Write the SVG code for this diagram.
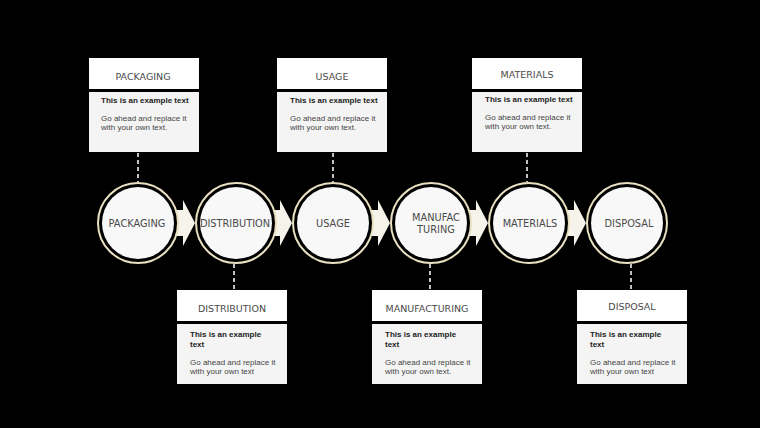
<svg xmlns="http://www.w3.org/2000/svg" width="760" height="428" viewBox="0 0 760 428">
<style>
.bg{fill:#000}
.hdr{fill:#ffffff}
.body{fill:#f4f4f4}
.htxt{font-family:"DejaVu Sans",sans-serif;font-size:9.5px;fill:#4a4a4a;text-anchor:middle}
.ctxt{font-family:"DejaVu Sans",sans-serif;font-size:9.8px;fill:#4a4a4a;text-anchor:middle}
.b{font-family:"Liberation Sans",Arial,sans-serif;font-size:8px;font-weight:bold;fill:#222}
.t{font-family:"Liberation Sans",Arial,sans-serif;font-size:8px;fill:#444}
.ring{fill:#000;stroke:#e9e0c2;stroke-width:2}
.inner{fill:#f8f8f8}
.arrow{fill:#f5f3ea}
.dash{stroke:#ffffff;stroke-width:1.5;stroke-dasharray:4 3;fill:none}
</style>
<rect class="bg" x="0" y="0" width="760" height="428"/>

<g id="connectors">
<polygon class="arrow" points="138,210 183,210 183,200 195,223 183,246 183,236 138,236"/>
<polygon class="arrow" points="236,210 280,210 280,200 292,223 280,246 280,236 236,236"/>
<polygon class="arrow" points="333,210 378,210 378,200 390,223 378,246 378,236 333,236"/>
<polygon class="arrow" points="431,210 476,210 476,200 488,223 476,246 476,236 431,236"/>
<polygon class="arrow" points="529,210 574,210 574,200 586,223 574,246 574,236 529,236"/>
<line class="dash" x1="138" y1="153" x2="138" y2="182"/>
<line class="dash" x1="333" y1="153" x2="333" y2="182"/>
<line class="dash" x1="527" y1="153" x2="527" y2="182"/>
<line class="dash" x1="234" y1="264" x2="234" y2="290"/>
<line class="dash" x1="430" y1="264" x2="430" y2="290"/>
<line class="dash" x1="631" y1="264" x2="631" y2="290"/>
</g>

<g id="circle-packaging">
<circle class="ring" cx="138" cy="223" r="40"/>
<circle class="inner" cx="138" cy="223" r="36"/>
<text class="ctxt" x="137" y="226.5">PACKAGING</text>
</g>
<g id="circle-distribution">
<circle class="ring" cx="236" cy="223" r="40"/>
<circle class="inner" cx="236" cy="223" r="36"/>
<text class="ctxt" x="235" y="226.5">DISTRIBUTION</text>
</g>
<g id="circle-usage">
<circle class="ring" cx="333" cy="223" r="40"/>
<circle class="inner" cx="333" cy="223" r="36"/>
<text class="ctxt" x="333" y="226.5">USAGE</text>
</g>
<g id="circle-manufacturing">
<circle class="ring" cx="431" cy="223" r="40"/>
<circle class="inner" cx="431" cy="223" r="36"/>
<text class="ctxt" x="436" y="221">MANUFAC</text>
<text class="ctxt" x="436" y="233">TURING</text>
</g>
<g id="circle-materials">
<circle class="ring" cx="529" cy="223" r="40"/>
<circle class="inner" cx="529" cy="223" r="36"/>
<text class="ctxt" x="530" y="226.5">MATERIALS</text>
</g>
<g id="circle-disposal">
<circle class="ring" cx="627" cy="223" r="40"/>
<circle class="inner" cx="627" cy="223" r="36"/>
<text class="ctxt" x="629" y="226.5">DISPOSAL</text>
</g>

<g id="box-packaging">
<rect class="hdr" x="89" y="58" width="110" height="31"/>
<rect class="body" x="89" y="92" width="110" height="60"/>
<text class="htxt" x="143" y="80">PACKAGING</text>
<text class="b" x="101" y="103">This is an example text</text>
<text class="t" x="101" y="121">Go ahead and replace it</text>
<text class="t" x="101" y="130">with your own text.</text>
</g>
<g id="box-usage">
<rect class="hdr" x="277" y="58" width="110" height="31"/>
<rect class="body" x="277" y="92" width="110" height="60"/>
<text class="htxt" x="332" y="80">USAGE</text>
<text class="b" x="290" y="103">This is an example text</text>
<text class="t" x="290" y="121">Go ahead and replace it</text>
<text class="t" x="290" y="130">with your own text.</text>
</g>
<g id="box-materials">
<rect class="hdr" x="472" y="58" width="110" height="31"/>
<rect class="body" x="472" y="92" width="110" height="60"/>
<text class="htxt" x="527" y="78">MATERIALS</text>
<text class="b" x="485" y="102">This is an example text</text>
<text class="t" x="485" y="120">Go ahead and replace it</text>
<text class="t" x="485" y="129">with your own text.</text>
</g>
<g id="box-distribution">
<rect class="hdr" x="177" y="290" width="110" height="31"/>
<rect class="body" x="177" y="324" width="110" height="60"/>
<text class="htxt" x="232" y="312">DISTRIBUTION</text>
<text class="b" x="190" y="337">This is an example</text>
<text class="b" x="190" y="347">text</text>
<text class="t" x="190" y="365">Go ahead and replace it</text>
<text class="t" x="190" y="374">with your own text</text>
</g>
<g id="box-manufacturing">
<rect class="hdr" x="372" y="290" width="110" height="31"/>
<rect class="body" x="372" y="324" width="110" height="60"/>
<text class="htxt" x="427" y="312">MANUFACTURING</text>
<text class="b" x="385" y="337">This is an example</text>
<text class="b" x="385" y="347">text</text>
<text class="t" x="385" y="365">Go ahead and replace it</text>
<text class="t" x="385" y="374">with your own text.</text>
</g>
<g id="box-disposal">
<rect class="hdr" x="577" y="290" width="110" height="31"/>
<rect class="body" x="577" y="324" width="110" height="60"/>
<text class="htxt" x="632" y="310">DISPOSAL</text>
<text class="b" x="590" y="337">This is an example</text>
<text class="b" x="590" y="347">text</text>
<text class="t" x="590" y="365">Go ahead and replace it</text>
<text class="t" x="590" y="374">with your own text</text>
</g>
</svg>
